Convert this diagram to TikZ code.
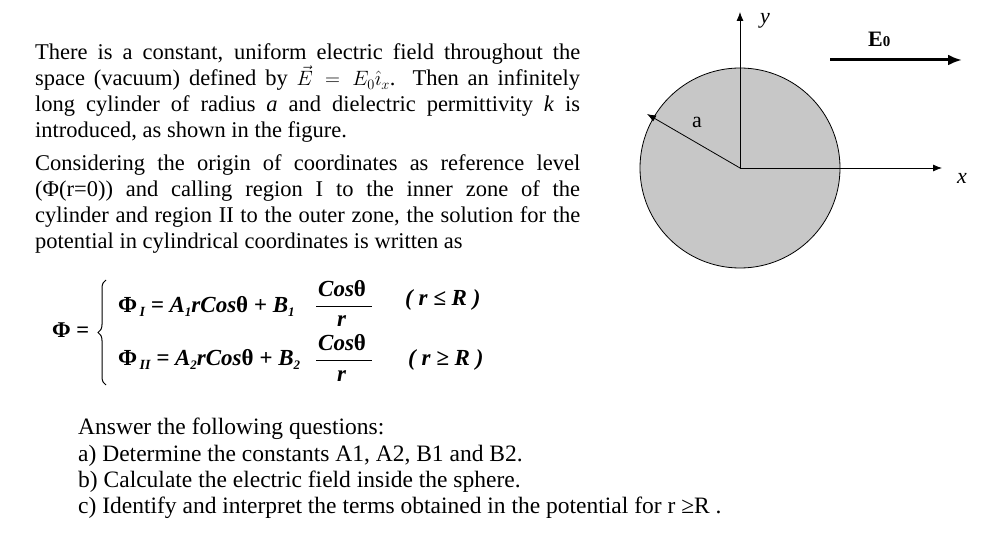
\documentclass[tikz,border=0pt]{standalone}
\usepackage{fontspec}
\setmainfont{Liberation Serif}
\usetikzlibrary{decorations.pathreplacing,arrows.meta}
\begin{document}
\begin{tikzpicture}[x=1pt,y=-1pt,
  txt/.style={anchor=base west,inner sep=0,font=\fontsize{22.5}{24}\selectfont},
  eq/.style={anchor=base west,inner sep=0,font=\fontsize{23}{24}\selectfont\bfseries\itshape},
  ax/.style={-{Latex[length=9pt,width=7pt]},line width=0.8pt}]
\useasboundingbox (0,0) rectangle (994,545);
% paragraph 1
\node[txt] (l1) at (35,60) {\hbox to 545pt{There is a constant, uniform electric field throughout the}};
\node[txt] (l2) at (35,86) {\hbox to 545pt{space (vacuum) defined by $\vec{E}=E_0\hat{\imath}_x$. Then an infinitely}};
\node[txt] (l3) at (35,112) {\hbox to 545pt{long cylinder of radius \textit{a} and dielectric permittivity \textit{k} is}};
\node[txt] (l4) at (35,138) {introduced, as shown in the figure.};
\node[txt] (l5) at (35,171) {\hbox to 545pt{Considering the origin of coordinates as reference level}};
\node[txt] (l6) at (35,197) {\hbox to 545pt{(Φ(r=0)) and calling region I to the inner zone of the}};
\node[txt] (l7) at (35,223) {\hbox to 545pt{cylinder and region II to the outer zone, the solution for the}};
\node[txt] (l8) at (35,249) {potential in cylindrical coordinates is written as};
% equation
\node[eq,font=\fontsize{22.5}{24}\selectfont\bfseries] (phi) at (52,338) {Φ =};
\coordinate (bt) at (106,280);
\coordinate (bb) at (106,385);
\draw[decorate,decoration={brace,amplitude=8pt},line width=1pt] (bb) -- (bt);
\node[eq] (e1) at (118,313) {\textup{Φ}\raisebox{-4pt}{\fontsize{14}{14}\selectfont\,I} = A\raisebox{-4pt}{\fontsize{13}{13}\selectfont 1}rCos\textup{θ} + B\raisebox{-4pt}{\fontsize{13}{13}\selectfont 1}};
\node[eq] (n1) at (318,297) {Cos\textup{θ}};
\node[eq] (d1) at (337,327) {r};
\draw[line width=0.7pt] (316,306) -- (372,306);
\node[eq] (c1) at (405,306) {( r ≤ R )};
\node[eq] (e2) at (118,366) {\textup{Φ}\raisebox{-4pt}{\fontsize{14}{14}\selectfont\,II} = A\raisebox{-4pt}{\fontsize{13}{13}\selectfont 2}rCos\textup{θ} + B\raisebox{-4pt}{\fontsize{13}{13}\selectfont 2}};
\node[eq] (n2) at (318,351) {Cos\textup{θ}};
\node[eq] (d2) at (337,382) {r};
\draw[line width=0.7pt] (316,360) -- (372,360);
\node[eq] (c2) at (408,366) {( r ≥ R )};
% questions
\node[txt,font=\fontsize{23.5}{24}\selectfont] (q0) at (78,435) {Answer the following questions:};
\node[txt,font=\fontsize{23.5}{24}\selectfont] (q1) at (78,461) {a) Determine the constants A1, A2, B1 and B2.};
\node[txt,font=\fontsize{23.5}{24}\selectfont] (q2) at (78,487) {b) Calculate the electric field inside the sphere.};
\node[txt,font=\fontsize{23.5}{24}\selectfont] (q3) at (78,513) {c) Identify and interpret the terms obtained in the potential for r ≥R .};
% figure
\fill[black!22] (740,168) circle (100);
\draw[line width=0.8pt] (740,168) circle (100);
\coordinate (o) at (740,168);
\coordinate (yt) at (740,12);
\coordinate (xt) at (942,168);
\coordinate (at) at (647,114);
\draw[ax] (o) -- (yt);
\draw[ax] (o) -- (xt);
\draw[ax] (o) -- (at);
\node[txt,font=\fontsize{22}{24}\selectfont\itshape] (ylab) at (760,24) {y};
\node[txt,font=\fontsize{22}{24}\selectfont\itshape] (xlab) at (957,184) {x};
\node[txt,font=\fontsize{22}{24}\selectfont] (alab) at (692,128) {a};
\coordinate (e0s) at (830,60);
\coordinate (e0e) at (962,60);
\draw[-{Latex[length=14pt,width=11pt]},line width=3pt] (e0s) -- (e0e);
\node[txt,font=\fontsize{22}{24}\selectfont\bfseries] (e0) at (868,47) {E\fontsize{15}{15}\selectfont 0};
\end{tikzpicture}
\end{document}
